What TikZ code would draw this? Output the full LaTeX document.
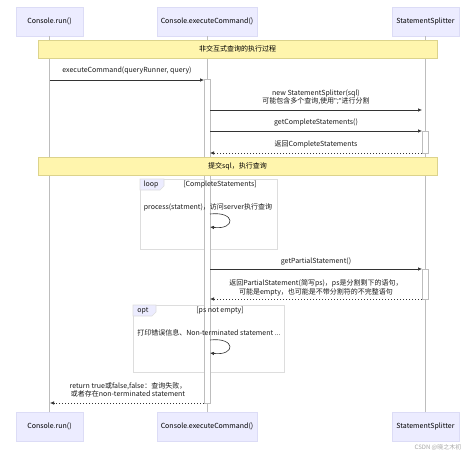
\documentclass[tikz,border=0pt]{standalone}
\usepackage{fontspec}
\setmainfont{Noto Sans CJK SC}
\newfontfamily\latinfont{Open Sans}
\usetikzlibrary{arrows.meta, calc}
\usepackage{xcolor}
\definecolor{actorfill}{HTML}{ECECFF}
\definecolor{actorline}{HTML}{DCDCF6}
\definecolor{notefill}{HTML}{FFF5AD}
\definecolor{noteline}{HTML}{DCD38C}
\definecolor{lifegray}{HTML}{BDBDBD}
\definecolor{framegray}{HTML}{DDDDDD}

\begin{document}
\begin{tikzpicture}[x=1pt, y=-1pt, font=\fontsize{7}{8.6}\selectfont,
  actor/.style={draw=actorline, fill=actorfill, minimum height=29pt, inner sep=0pt},
  notebox/.style={draw=noteline, fill=notefill, minimum width=399pt, minimum height=18pt, inner sep=0pt},
  lifeline/.style={draw=lifegray, line width=0.6pt},
  actbar/.style={draw=lifegray, fill=white, line width=0.6pt},
  msg/.style={-{Latex[length=4pt, width=3.5pt]}, line width=0.6pt, draw=black!80},
  reply/.style={msg, dash pattern=on 1.5pt off 1.5pt},
  frame/.style={draw=framegray, line width=0.6pt},
  tab/.style={fill=actorfill, draw=framegray, line width=0.6pt},
  lbl/.style={align=center, inner sep=0pt, text=black!90}]
  \useasboundingbox (0,0) rectangle (474,452);

  % actors, top and bottom
  \node[actor, minimum width=67pt] (run) at (49.5,21.5) {Console.run()};
  \node[actor, minimum width=100pt] (exec) at (207,21.5) {Console.executeCommand()};
  \node[actor, minimum width=67pt] (split) at (425.5,21.5) {StatementSplitter};
  \node[actor, minimum width=67pt] (runB) at (49.5,426.5) {Console.run()};
  \node[actor, minimum width=100pt] (execB) at (207,426.5) {Console.executeCommand()};
  \node[actor, minimum width=67pt] (splitB) at (425.5,426.5) {StatementSplitter};

  % lifelines
  \draw[lifeline] (run) -- (runB);
  \draw[lifeline] (exec) -- (execB);
  \draw[lifeline] (split) -- (splitB);

  % frames
  \draw[frame] (140,179) rectangle (277,249);
  \draw[tab] (140,179) -- (164,179) -- (164,186) -- (160,190) -- (140,190) -- cycle;
  \draw[frame] (133,305) rectangle (284,372);
  \draw[tab] (133,305) -- (156,305) -- (156,312) -- (152,316) -- (133,316) -- cycle;

  % activation bars
  \draw[actbar] (204,79) rectangle (210,403);
  \draw[actbar] (422,131) rectangle (428,153);
  \draw[actbar] (422,269) rectangle (428,299);

  % frame labels
  \node[lbl] (looplbl) at (151,184.5) {loop};
  \node[lbl] (loopcond) at (220,185) {[CompleteStatements]};
  \node[lbl] (optlbl) at (143,310.5) {opt};
  \node[lbl] (optcond) at (220,311) {[ps not empty]};

  % notes
  \node[notebox] (note1) at (237.5,49) {非交互式查询的执行过程};
  \node[notebox] (note2) at (237.5,166) {提交sql，执行查询};

  % anchor points on lifelines and bars
  \coordinate (r1) at (50,80);    \coordinate (e1) at (204,80);
  \coordinate (e2) at (210,110);  \coordinate (s2) at (422,110);
  \coordinate (e3) at (210,131);  \coordinate (s3) at (422,131);
  \coordinate (s4) at (422,153);  \coordinate (e4) at (210,153);
  \coordinate (e5) at (210,269);  \coordinate (s5) at (422,269);
  \coordinate (s6) at (422,299);  \coordinate (e6) at (210,299);
  \coordinate (e7) at (204,403);  \coordinate (r7) at (50,403);
  \coordinate (p1) at (210,214);  \coordinate (p2) at (210,227);
  \coordinate (q1) at (210,340);  \coordinate (q2) at (210,353);

  % messages
  \node[lbl] (t1) at (127,70) {executeCommand(queryRunner, query)};
  \draw[msg] (r1) -- (e1);

  \node[lbl] (t2) at (316,97.5) {new StatementSplitter(sql)\\可能包含多个查询,使用{\latinfont";"}进行分割};
  \draw[msg] (e2) -- (s2);

  \node[lbl] (t3) at (316,123) {getCompleteStatements()};
  \draw[msg] (e3) -- (s3);

  \node[lbl] (t4) at (316,144) {返回CompleteStatements};
  \draw[reply] (s4) -- (e4);

  \node[lbl] (t5) at (208,207) {process(statment)，访问server执行查询};
  \draw[msg] (p1) .. controls (236,211) and (236,230) .. (p2);

  \node[lbl] (t6) at (316,262) {getPartialStatement()};
  \draw[msg] (e5) -- (s5);

  \node[lbl] (t7) at (316,288) {返回PartialStatement(简写ps)，ps是分割剩下的语句，\\可能是empty，也可能是不带分割符的不完整语句};
  \draw[reply] (s6) -- (e6);

  \node[lbl] (t8) at (209,333) {打印错误信息、Non-terminated statement ...};
  \draw[msg] (q1) .. controls (236,337) and (236,356) .. (q2);

  \node[lbl] (t9) at (128,390) {return true或false,false：查询失败，\\或者存在non-terminated statement};
  \draw[reply] (e7) -- (r7);

  % watermark
  \node[lbl, text=black!35, font=\fontsize{6}{7}\selectfont] (mark) at (438,447) {CSDN @晓之木初};
\end{tikzpicture}
\end{document}
